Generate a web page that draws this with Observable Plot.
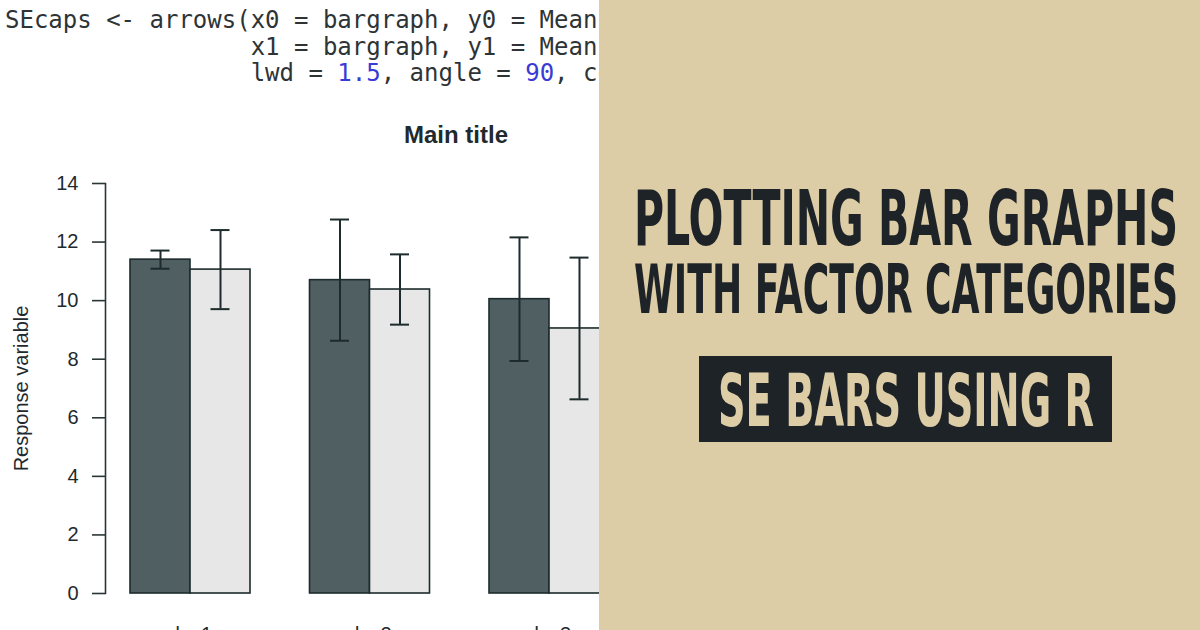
<!DOCTYPE html>
<html>
<head>
<meta charset="utf-8">
<script src="https://cdn.jsdelivr.net/npm/d3@7"></script>
<script src="https://cdn.jsdelivr.net/npm/@observablehq/plot@0.6"></script>
<style>
  html, body { margin: 0; padding: 0; width: 1200px; height: 630px; overflow: hidden; background: #ffffff; }
  #chart { position: absolute; left: 0; top: 0; }
  #code { position: absolute; left: 5px; top: 7px; width: 595px; overflow: hidden; white-space: pre;
          font-family: "DejaVu Sans Mono", monospace; font-size: 24px; line-height: 26.5px; color: #2e3436; }
  #code .num { color: #3a3ad6; }
  #title { position: absolute; left: 306px; width: 300px; top: 123px; text-align: center;
           font-family: "Liberation Sans", Arial, sans-serif; font-weight: bold; font-size: 24px; line-height: 24px; color: #1f2a2e; }
  #panel { position: absolute; left: 599px; top: 0; width: 601px; height: 630px; background: #dccda7; z-index: 5; }
  #panel svg { position: absolute; left: 0; top: 0; }
</style>
</head>
<body>
<div id="chart"></div>
<div id="code">SEcaps &lt;- arrows(x0 = bargraph, y0 = Means + SEs,
                 x1 = bargraph, y1 = Means - SEs,
                 lwd = <span class="num">1.5</span>, angle = <span class="num">90</span>, code = <span class="num">3</span>, length = <span class="num">0.05</span>)</div>
<div id="title">Main title</div>
<div id="panel">
  <svg width="601" height="630">
    <text x="35" y="245" textLength="544" lengthAdjust="spacingAndGlyphs"
          font-family="Liberation Sans Narrow, DejaVu Sans Condensed, sans-serif" font-weight="bold" font-size="76" fill="#1e2328">PLOTTING BAR GRAPHS</text>
    <text x="35" y="313" textLength="544" lengthAdjust="spacingAndGlyphs"
          font-family="Liberation Sans Narrow, DejaVu Sans Condensed, sans-serif" font-weight="bold" font-size="67" fill="#1e2328">WITH FACTOR CATEGORIES</text>
    <rect x="100" y="356" width="413" height="86" fill="#1e2328"></rect>
    <text x="119" y="426" textLength="376" lengthAdjust="spacingAndGlyphs"
          font-family="Liberation Sans Narrow, DejaVu Sans Condensed, sans-serif" font-weight="bold" font-size="73" fill="#dccda7">SE BARS USING R</text>
  </svg>
</div>
<script>
// ---- data ----
const days = ["day1", "day2", "day3"];
const groups = ["control", "treatment"];
const meansControl = [11.40, 10.70, 10.05];
const meansTreatment = [11.06, 10.38, 9.05];
const seControl = [0.31, 2.07, 2.11];
const seTreatment = [1.35, 1.20, 2.42];
const yTicks = [0, 2, 4, 6, 8, 10, 12, 14];
const groupColors = ["#505f62", "#e6e7e6"];

const rows = [];
days.forEach((day, i) => {
  rows.push({day, group: groups[0], mean: meansControl[i], se: seControl[i]});
  rows.push({day, group: groups[1], mean: meansTreatment[i], se: seTreatment[i]});
});

const ink = "#1d2b2c";

const chart = Plot.plot({
  width: 1200,
  height: 660,
  marginTop: 183,
  marginBottom: 67,
  marginLeft: 105,
  marginRight: 566,
  style: { fontFamily: "Liberation Sans, Arial, sans-serif", fontSize: "20px", color: "#1f2a2e", background: "transparent", overflow: "visible" },
  fx: { domain: days, paddingInner: 0.0529, paddingOuter: 0, round: false, label: null },
  x: { domain: groups, paddingInner: 0, paddingOuter: 25 / 60, round: false, axis: null },
  y: { domain: [0, 14], ticks: yTicks },
  color: { domain: groups, range: groupColors },
  marks: [
    Plot.barY(rows, { fx: "day", x: "group", y: "mean", fill: "group", stroke: ink, strokeWidth: 1.6 }),
    Plot.ruleX(rows, { fx: "day", x: "group", y1: d => d.mean - d.se, y2: d => d.mean + d.se, stroke: ink, strokeWidth: 2 }),
    Plot.tickY(rows, { fx: "day", x: "group", y: d => d.mean + d.se, insetLeft: 20.5, insetRight: 20.5, stroke: ink, strokeWidth: 2 }),
    Plot.tickY(rows, { fx: "day", x: "group", y: d => d.mean - d.se, insetLeft: 20.5, insetRight: 20.5, stroke: ink, strokeWidth: 2 }),
    Plot.frame({ anchor: "left", facetAnchor: "left", stroke: "#2a3536", strokeWidth: 1.6 }),
    Plot.axisY({ ticks: yTicks, tickSize: 13, tickPadding: 14, fontSize: 20, stroke: "#2a3536", strokeWidth: 1.6,
                 label: "Response variable", labelAnchor: "center", labelOffset: 92, labelArrow: "none" }),
    Plot.axisFx({ anchor: "bottom", tickSize: 0, tickPadding: 33, fontSize: 20, label: null })
  ]
});
document.getElementById("chart").appendChild(chart);
</script>
</body>
</html>
